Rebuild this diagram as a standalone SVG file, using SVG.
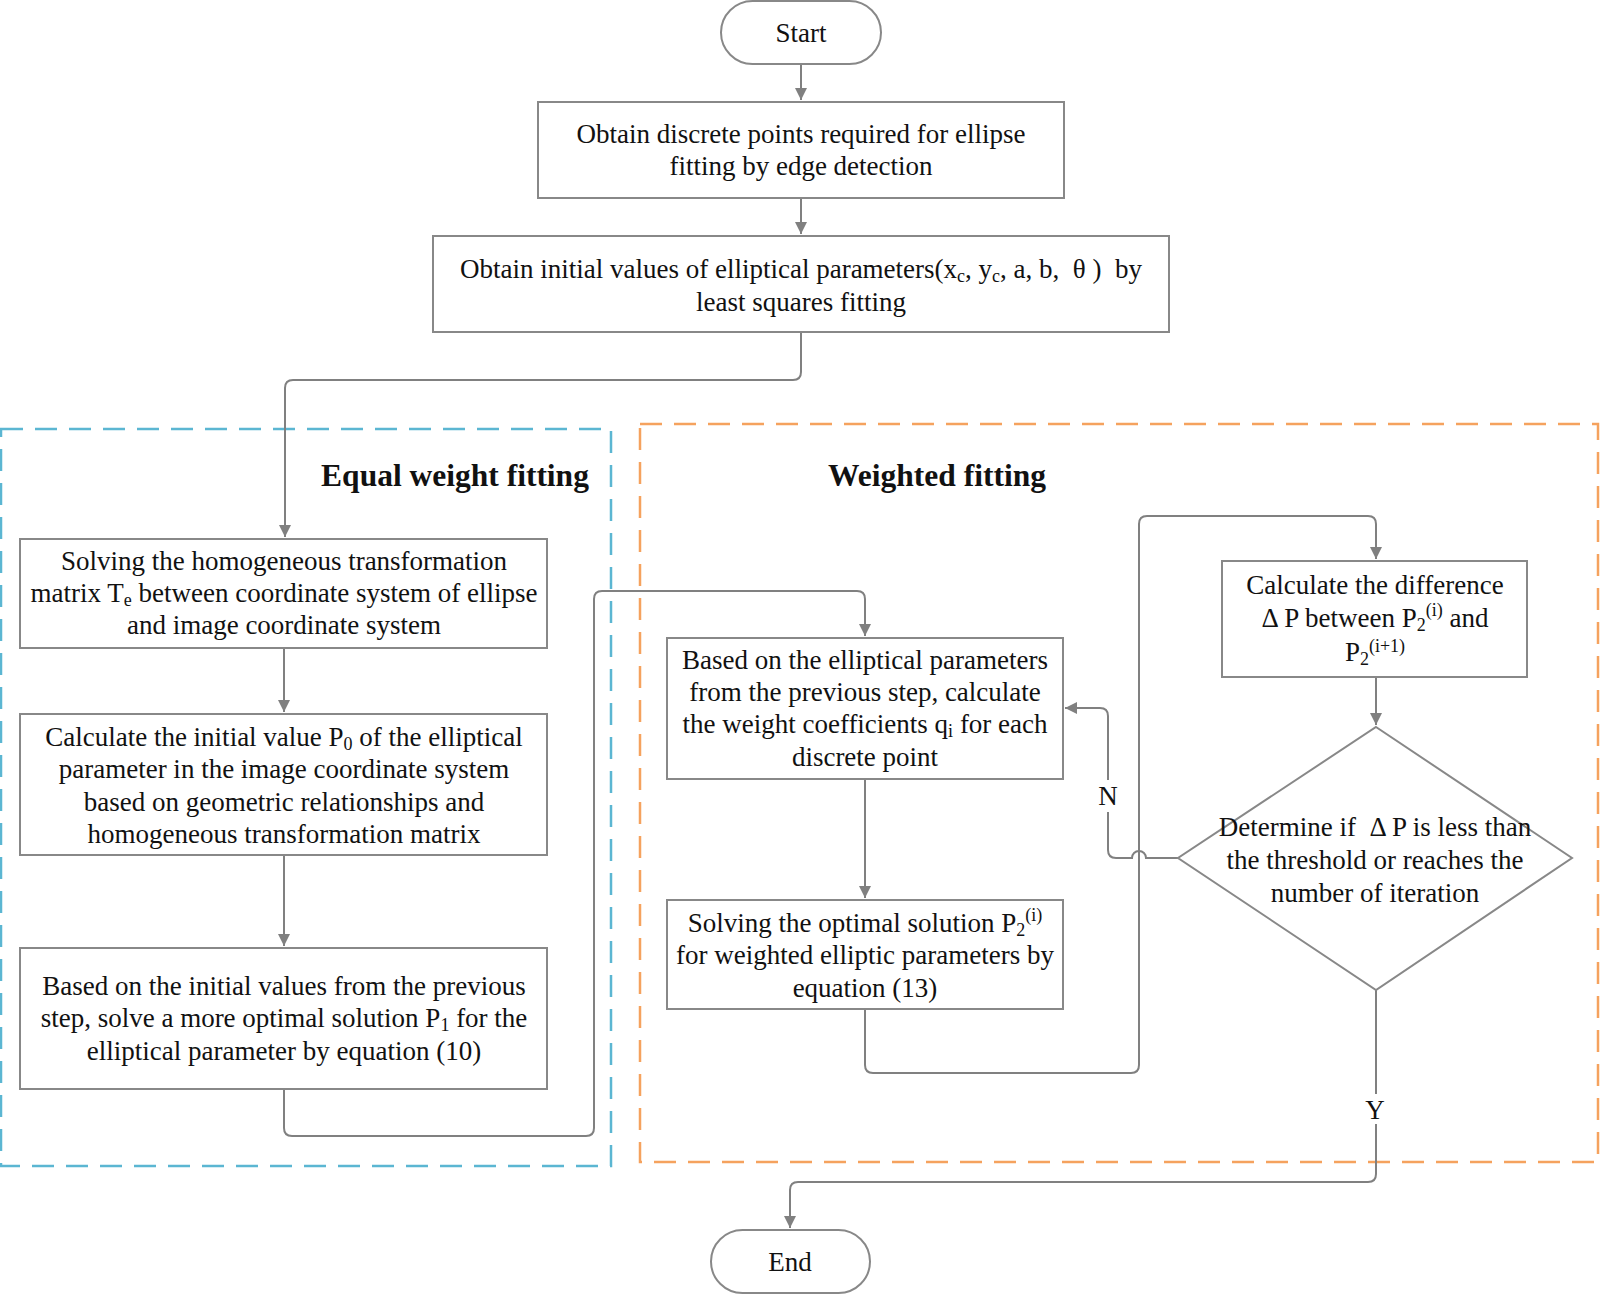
<svg xmlns="http://www.w3.org/2000/svg" width="1600" height="1295" viewBox="0 0 1600 1295">
<style>
.box{fill:#fff;stroke:#888;stroke-width:2}
.t{font-family:"Liberation Serif","Times New Roman",serif;font-size:27px;fill:#111;text-anchor:middle}
.title{font-family:"Liberation Serif","Times New Roman",serif;font-size:31.5px;font-weight:bold;fill:#111;text-anchor:middle}
.c{fill:none;stroke:#808080;stroke-width:2}
.s{font-size:18px}
</style>
<defs>
<marker id="arr" markerWidth="12" markerHeight="12" refX="10" refY="5" orient="auto" markerUnits="userSpaceOnUse" viewBox="0 0 10 10">
<path d="M0,0 L10,5 L0,10z" fill="#808080"/>
</marker>
</defs>
<rect width="1600" height="1295" fill="#fff"/>
<g id="regions">
<rect x="1" y="429" width="610" height="737" fill="none" stroke="#5BB6D2" stroke-width="2.5" stroke-dasharray="22,12"/>
<rect x="640" y="424" width="958" height="738" fill="none" stroke="#F5A25E" stroke-width="2.5" stroke-dasharray="22,12"/>
<text class="title" x="455" y="486">Equal weight fitting</text>
<text class="title" x="937" y="486">Weighted fitting</text>
</g>
<g id="connectors">
<path class="c" d="M801,64 V100" marker-end="url(#arr)"/>
<path class="c" d="M801,198 V234" marker-end="url(#arr)"/>
<path class="c" d="M801,332 V372 Q801,380 793,380 H293 Q285,380 285,388 V537" marker-end="url(#arr)"/>
<path class="c" d="M284,648 V712" marker-end="url(#arr)"/>
<path class="c" d="M284,855 V946" marker-end="url(#arr)"/>
<path class="c" d="M284,1089 V1128 Q284,1136 292,1136 H586 Q594,1136 594,1128 V599 Q594,591 602,591 H857 Q865,591 865,599 V636" marker-end="url(#arr)"/>
<path class="c" d="M865,779 V898" marker-end="url(#arr)"/>
<path class="c" d="M865,1009 V1065 Q865,1073 873,1073 H1131 Q1139,1073 1139,1065 V524 Q1139,516 1147,516 H1368 Q1376,516 1376,524 V559" marker-end="url(#arr)"/>
<path class="c" d="M1376,677 V725" marker-end="url(#arr)"/>
<path class="c" d="M1178,858 H1146 A7,7 0 0 0 1132,858 H1116 Q1108,858 1108,850 V812"/>
<path class="c" d="M1108,780 V716 Q1108,708 1100,708 H1065" marker-end="url(#arr)"/>
<path class="c" d="M1376,990 V1094"/>
<path class="c" d="M1376,1124 V1174 Q1376,1182 1368,1182 H798 Q790,1182 790,1190 V1228" marker-end="url(#arr)"/>
<text class="t" x="1108" y="805">N</text>
<text class="t" x="1375" y="1119">Y</text>
</g>
<g id="start">
<rect class="box" x="721" y="1" width="160" height="63" rx="31.5"/>
<text class="t" x="801" y="42">Start</text>
</g>
<g id="edge-detection">
<rect class="box" x="538" y="102" width="526" height="96"/>
<text class="t" x="801" y="143">Obtain discrete points required for ellipse</text>
<text class="t" x="801" y="175">fitting by edge detection</text>
</g>
<g id="least-squares">
<rect class="box" x="433" y="236" width="736" height="96"/>
<text class="t" x="801" y="278">Obtain initial values of elliptical parameters(x<tspan class="s" dy="4">c</tspan><tspan dy="-4">, y</tspan><tspan class="s" dy="4">c</tspan><tspan dy="-4">, a, b,&#160; θ )&#160; by</tspan></text>
<text class="t" x="801" y="311">least squares fitting</text>
</g>
<g id="transform-matrix">
<rect class="box" x="20" y="539" width="527" height="109"/>
<text class="t" x="284" y="570">Solving the homogeneous transformation</text>
<text class="t" x="284" y="602">matrix T<tspan class="s" dy="4">e</tspan><tspan dy="-4"> between coordinate system of ellipse</tspan></text>
<text class="t" x="284" y="634">and image coordinate system</text>
</g>
<g id="initial-p0">
<rect class="box" x="20" y="714" width="527" height="141"/>
<text class="t" x="284" y="746">Calculate the initial value P<tspan class="s" dy="4">0</tspan><tspan dy="-4"> of the elliptical</tspan></text>
<text class="t" x="284" y="778">parameter in the image coordinate system</text>
<text class="t" x="284" y="811">based on geometric relationships and</text>
<text class="t" x="284" y="843">homogeneous transformation matrix</text>
</g>
<g id="optimal-p1">
<rect class="box" x="20" y="948" width="527" height="141"/>
<text class="t" x="284" y="995">Based on the initial values from the previous</text>
<text class="t" x="284" y="1027">step, solve a more optimal solution P<tspan class="s" dy="4">1</tspan><tspan dy="-4"> for the</tspan></text>
<text class="t" x="284" y="1060">elliptical parameter by equation (10)</text>
</g>
<g id="weight-coefficients">
<rect class="box" x="667" y="638" width="396" height="141"/>
<text class="t" x="865" y="669">Based on the elliptical parameters</text>
<text class="t" x="865" y="701">from the previous step, calculate</text>
<text class="t" x="865" y="733">the weight coefficients q<tspan class="s" dy="4">i</tspan><tspan dy="-4"> for each</tspan></text>
<text class="t" x="865" y="766">discrete point</text>
</g>
<g id="optimal-p2">
<rect class="box" x="667" y="900" width="396" height="109"/>
<text class="t" x="865" y="932">Solving the optimal solution P<tspan class="s" dy="4">2</tspan><tspan class="s" dy="-15">(i)</tspan></text>
<text class="t" x="865" y="964">for weighted elliptic parameters by</text>
<text class="t" x="865" y="997">equation (13)</text>
</g>
<g id="difference">
<rect class="box" x="1222" y="561" width="305" height="116"/>
<text class="t" x="1375" y="594">Calculate the difference</text>
<text class="t" x="1375" y="627">Δ P between P<tspan class="s" dy="4">2</tspan><tspan class="s" dy="-15">(i)</tspan><tspan dy="11"> and</tspan></text>
<text class="t" x="1375" y="661">P<tspan class="s" dy="4">2</tspan><tspan class="s" dy="-13">(i+1)</tspan></text>
</g>
<g id="decision">
<polygon class="box" points="1376,727 1572,858 1376,990 1178,858"/>
<text class="t" x="1375" y="836">Determine if&#160; Δ P is less than</text>
<text class="t" x="1375" y="869">the threshold or reaches the</text>
<text class="t" x="1375" y="902">number of iteration</text>
</g>
<g id="end">
<rect class="box" x="711" y="1230" width="159" height="63" rx="31.5"/>
<text class="t" x="790" y="1271">End</text>
</g>
</svg>
